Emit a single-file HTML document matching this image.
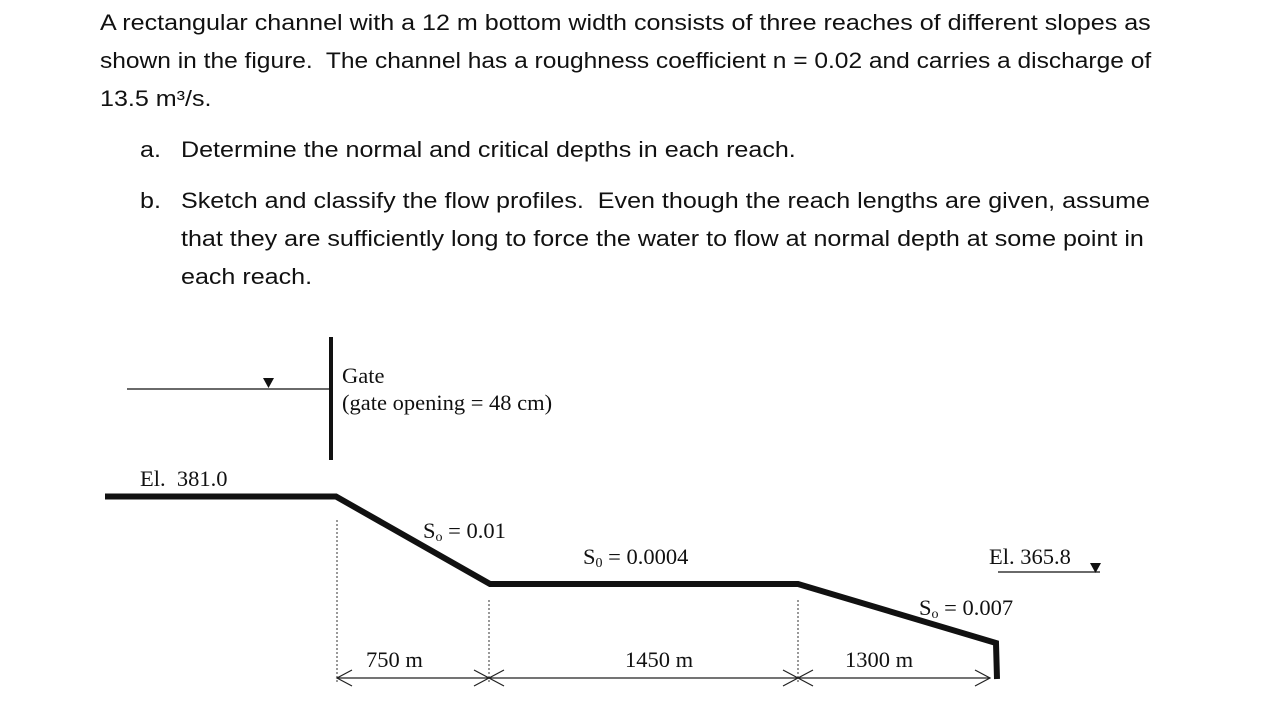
<!DOCTYPE html>
<html><head><meta charset="utf-8"><style>
body{margin:0;background:#fff;width:1270px;height:706px;overflow:hidden;position:relative;font-family:"Liberation Sans",sans-serif;color:#111}
.p{position:absolute;font-size:22px;white-space:nowrap;transform:scaleX(1.14);transform-origin:0 0}
svg{position:absolute;left:0;top:0}
svg text{font-family:"Liberation Serif",serif;font-size:22.5px;fill:#111}
</style></head><body>
<div class="p" style="left:100px;top:10px">A rectangular channel with a 12 m bottom width consists of three reaches of different slopes as</div>
<div class="p" style="left:100px;top:48px;transform:scaleX(1.115)">shown in the figure.&nbsp; The channel has a roughness coefficient n = 0.02 and carries a discharge of</div>
<div class="p" style="left:100px;top:86px">13.5 m³/s.</div>
<div class="p" style="left:140px;top:137px">a.</div>
<div class="p" style="left:181px;top:137px">Determine the normal and critical depths in each reach.</div>
<div class="p" style="left:140px;top:188px">b.</div>
<div class="p" style="left:181px;top:188px">Sketch and classify the flow profiles.&nbsp; Even though the reach lengths are given, assume</div>
<div class="p" style="left:181px;top:226px">that they are sufficiently long to force the water to flow at normal depth at some point in</div>
<div class="p" style="left:181px;top:264px">each reach.</div>
<svg width="1270" height="706">
<line x1="127" y1="389" x2="331" y2="389" stroke="#111" stroke-width="1.3"/>
<polygon points="263,378 274,378 268.5,388" fill="#111"/>
<line x1="331" y1="337" x2="331" y2="460" stroke="#111" stroke-width="4"/>
<text x="342" y="383">Gate</text>
<text x="342" y="410">(gate opening = 48 cm)</text>
<text x="140" y="486">El.&#160; 381.0</text>
<polyline points="105,496.5 336,496.5 490,584 798,584 996,643 997,679" fill="none" stroke="#111" stroke-width="6" stroke-linejoin="miter"/>
<g stroke="#333" stroke-width="1" stroke-dasharray="2,2">
<line x1="337" y1="520" x2="337" y2="684"/>
<line x1="489" y1="600" x2="489" y2="684"/>
<line x1="798" y1="600" x2="798" y2="684"/>
</g>
<line x1="337" y1="678" x2="990" y2="678" stroke="#222" stroke-width="1.2"/>
<g stroke="#222" stroke-width="1.2" fill="none">
<polyline points="352,670 337,678 352,686"/>
<polyline points="474,670 489,678 474,686"/>
<polyline points="504,670 489,678 504,686"/>
<polyline points="783,670 798,678 783,686"/>
<polyline points="813,670 798,678 813,686"/>
<polyline points="975,670 990,678 975,686"/>
</g>
<text x="423" y="538">S<tspan font-size="14" dy="3">o</tspan><tspan dy="-3"> = 0.01</tspan></text>
<text x="583" y="564">S<tspan font-size="14" dy="3">0</tspan><tspan dy="-3"> = 0.0004</tspan></text>
<text x="919" y="615">S<tspan font-size="14" dy="3">o</tspan><tspan dy="-3"> = 0.007</tspan></text>
<text x="989" y="564">El. 365.8</text>
<line x1="998" y1="572" x2="1100" y2="572" stroke="#111" stroke-width="1.3"/>
<polygon points="1090,563 1101,563 1095.5,573" fill="#111"/>
<text x="366" y="667">750 m</text>
<text x="625" y="667">1450 m</text>
<text x="845" y="667">1300 m</text>
</svg>
</body></html>
